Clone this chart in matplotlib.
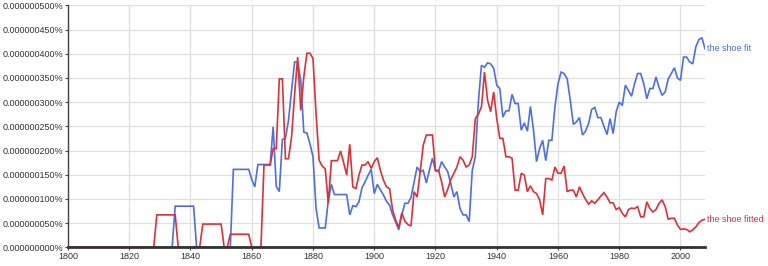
import numpy as np
import matplotlib
matplotlib.use("Agg")
import matplotlib.pyplot as plt
from matplotlib.ticker import FuncFormatter

# values in units of 1e-9 percent, one per year 1800..2008
years = list(range(1800, 2009))

shoe_fit = ([0] * 35 + [85] * 7 + [0] * 12 + [161] * 6 +
    [140, 125] + [171] * 5 +
    [249, 126, 115, 223, 225, 262, 324, 383, 382, 345, 238, 236, 214, 187,  # 1867-1880
     80, 40, 40, 40, 97, 130, 109, 109, 109, 109, 109, 67, 86, 84, 94, 123,  # 1881-1896
     135, 149, 161, 111, 130, 119, 108, 95, 87, 67, 52, 36, 67, 91, 91, 103,  # 1897-1912
     135, 166, 156, 159, 133, 159, 184, 158, 157, 177, 166, 156, 131, 104,  # 1913-1926
     115, 80, 67, 67, 53, 159, 187, 300, 376, 372, 381, 379, 370, 335,  # 1927-1940
     328, 269, 282, 282, 316, 297, 297, 242, 257, 240, 291, 242, 177, 204,  # 1941-1954
     221, 179, 221, 221, 290, 338, 362, 359, 348, 304, 254, 259, 268, 232,  # 1955-1968
     240, 256, 285, 289, 268, 268, 250, 233, 266, 235, 280, 300, 293, 335,  # 1969-1982
     324, 312, 338, 359, 359, 338, 307, 328, 328, 352, 330, 314, 321, 348,  # 1983-1996
     359, 371, 350, 345, 393, 393, 383, 379, 414, 429, 433, 410])  # 1997-2008

shoe_fitted = ([0] * 29 + [67] * 7 + [0] * 8 + [48] * 7 + [0] * 2 + [27] * 7 +
    [0] * 4 +
    [170, 170, 170, 204, 204, 348, 348, 183, 183, 228, 317, 393, 283, 352,  # 1864-1877
     401, 401, 390, 276, 180, 168, 162, 91, 179, 179, 179, 199, 175, 149,  # 1878-1891
     213, 125, 121, 149, 170, 170, 177, 163, 177, 185, 159, 139, 125, 121,  # 1892-1905
     77, 56, 41, 71, 54, 47, 44, 115, 104, 156, 211, 232, 232, 232,  # 1906-1919
     159, 159, 135, 104, 120, 140, 153, 166, 187, 180, 166, 170, 187, 266,  # 1920-1933
     275, 290, 362, 304, 280, 321, 266, 225, 225, 187, 187, 184, 118, 118,  # 1934-1947
     153, 149, 115, 127, 115, 111, 98, 67, 142, 142, 139, 166, 153, 153,  # 1948-1961
     168, 115, 118, 118, 104, 125, 111, 99, 89, 96, 91, 98, 106, 113,  # 1962-1975
     104, 92, 92, 78, 82, 70, 63, 78, 81, 80, 84, 63, 63, 94,  # 1976-1989
     80, 73, 78, 91, 98, 84, 58, 60, 60, 46, 37, 38, 37, 32,  # 1990-2003
     36, 42, 51, 56, 58])  # 2004-2008

labels = ["the shoe fit", "the shoe fitted"]
colors = ["#4f6fe0", "#d8323a"]

plt.rcParams['font.family'] = ['Liberation Sans', 'DejaVu Sans']

fig = plt.figure(figsize=(7.68, 2.66), dpi=100)
ax = fig.add_axes([68 / 768, 1 - 247.3 / 266, (705 - 68) / 768, (247.3 - 5.3) / 266])

for vals, lab, col in zip([shoe_fit, shoe_fitted], labels, colors):
    ax.plot(years, vals, color=col, lw=1.2, solid_joinstyle='miter')
    ax.text(years[-1] + 0.5, vals[-1], lab, color=col, fontsize=6.5,
            va='center', ha='left', clip_on=False)

ax.set_xlim(1800, 2008)
ax.set_ylim(0, 500)
ax.set_xticks(range(1800, 2001, 20))
ax.set_yticks(range(0, 501, 50))
ax.yaxis.set_major_formatter(FuncFormatter(lambda v, p: "%.9f%%" % (v * 1e-9)))
ax.grid(True, color="#e0e0e0", lw=0.9)
ax.set_axisbelow(True)
for s in ["top", "right"]:
    ax.spines[s].set_visible(False)
ax.spines["left"].set_color("#444444")
ax.spines["left"].set_linewidth(1.0)
ax.spines["bottom"].set_color("#333333")
ax.spines["bottom"].set_linewidth(2.0)
ax.tick_params(axis='both', labelsize=6.5, labelcolor="#333333", length=2, width=0.8,
               color="#444444", pad=1.5)

fig.savefig("out.png", dpi=100)
